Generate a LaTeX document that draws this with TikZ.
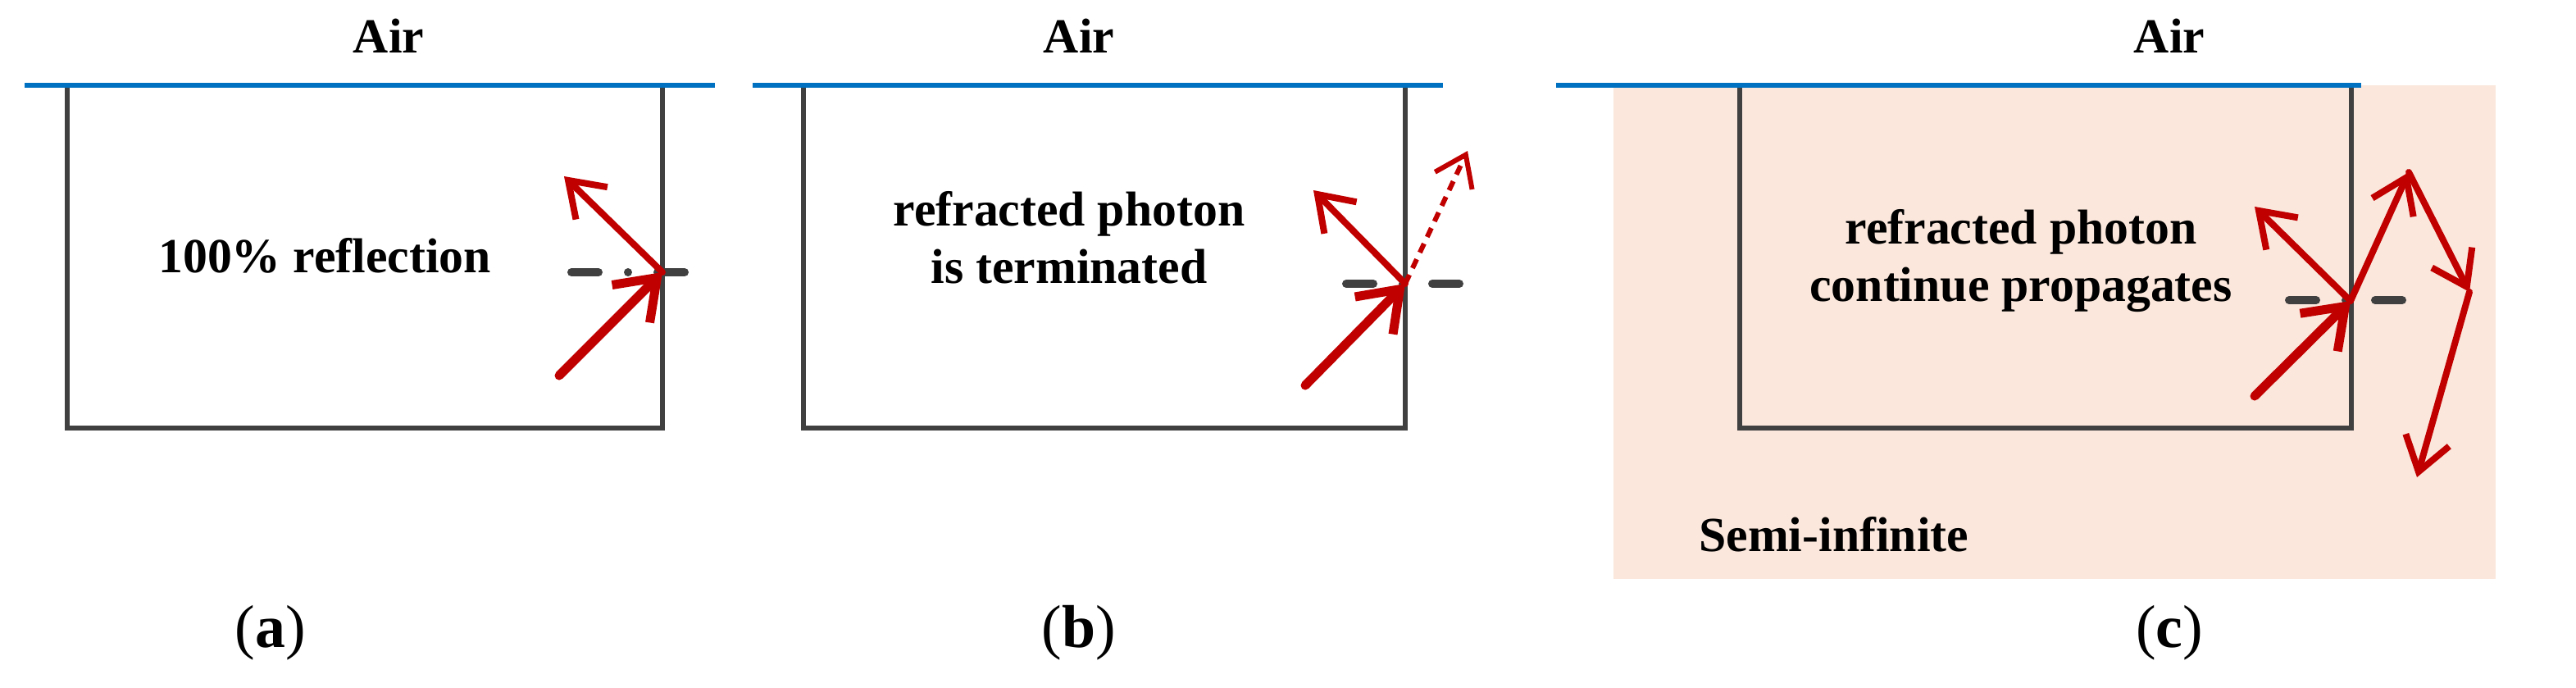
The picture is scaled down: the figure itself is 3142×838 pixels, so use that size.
\documentclass[tikz,border=0pt]{standalone}
\usepackage{fontspec}
\setmainfont{Liberation Serif}
\usetikzlibrary{arrows.meta}
\definecolor{airblue}{HTML}{0070C0}
\definecolor{boxgray}{HTML}{404040}
\definecolor{ray}{HTML}{C00000}
\definecolor{pink}{HTML}{FBE7DC}
\begin{document}
\begin{tikzpicture}[x=0.1mm,y=-0.1mm,
  surface/.style={airblue,line width=0.55mm},
  medium/.style={boxgray,line width=0.6mm},
  normal/.style={boxgray,line width=1mm,line cap=round,dash pattern=on 3.3mm off 3.6mm on 0mm off 3.6mm},
  inray/.style={ray,line width=1.1mm,line cap=round,-{Straight Barb[length=4.5mm,width=6.5mm,line width=1.1mm]}},
  outray/.style={ray,line width=0.8mm,line cap=round,-{Straight Barb[length=4mm,width=5.5mm,line width=0.8mm]}},
  lbl/.style={font=\fontsize{17}{20}\selectfont\bfseries,align=center},
  captxt/.style={font=\fontsize{21}{24}\selectfont}]
\useasboundingbox (0,0) rectangle (3142,838);
% panel a
\node[lbl] (aira) at (474,44) {Air};
\draw[medium] (82,104) |- (808,522) -- (808,104);
\draw[surface] (30,104) -- (872,104);
\coordinate (ha) at (808,332);
\coordinate (ea) at (868,332);
\coordinate (sa) at (697,332);
\draw[normal] (sa) -- (ea);
\coordinate (ia) at (682,458);
\coordinate (ra) at (688,215);
\draw[inray] (ia) -- (ha);
\draw[outray] (ha) -- (ra);
\node[lbl] (ta) at (396,312) {100\% reflection};
\node[captxt] (capa) at (330,772) {(\textbf{a})};
% panel b
\node[lbl] (airb) at (1316,44) {Air};
\draw[medium] (980,104) |- (1714,522) -- (1714,104);
\draw[surface] (918,104) -- (1760,104);
\coordinate (hb) at (1714,346);
\coordinate (sb) at (1642,346);
\coordinate (eb) at (1812,346);
\draw[normal] (sb) -- (eb);
\coordinate (ib) at (1592,470);
\coordinate (rb) at (1602,232);
\coordinate (fb) at (1790,184);
\draw[inray] (ib) -- (hb);
\draw[outray] (hb) -- (rb);
\draw[ray,line width=0.6mm,dash pattern=on 1.2mm off 0.9mm,-{Straight Barb[length=3.5mm,width=5mm,line width=0.6mm]}] (hb) -- (fb);
\node[lbl] (tb) at (1304,290) {refracted photon\\is terminated};
\node[captxt] (capb) at (1316,772) {(\textbf{b})};
% panel c
\fill[pink] (1968,104) rectangle (3044,706);
\node[lbl] (airc) at (2646,44) {Air};
\draw[medium] (2122,104) |- (2868,522) -- (2868,104);
\draw[surface] (1898,104) -- (2880,104);
\coordinate (hc) at (2867,367);
\coordinate (sc) at (2792,366);
\coordinate (ec) at (2958,366);
\draw[normal] (sc) -- (ec);
\coordinate (ic) at (2750,483);
\coordinate (rc) at (2750,252);
\coordinate (p1) at (2938,210);
\coordinate (p2) at (3012,356);
\coordinate (p3) at (2948,582);
\draw[inray] (ic) -- (hc);
\draw[outray] (hc) -- (rc);
\draw[outray] (hc) -- (p1);
\draw[outray] (p1) -- (p2);
\draw[outray] (p2) -- (p3);
\node[lbl] (tc) at (2465,318) {refracted photon\\continue propagates};
\node[lbl,anchor=west] (semi) at (2060,652) {Semi-infinite};
\node[captxt] (capc) at (2646,772) {(\textbf{c})};
\end{tikzpicture}
\end{document}
